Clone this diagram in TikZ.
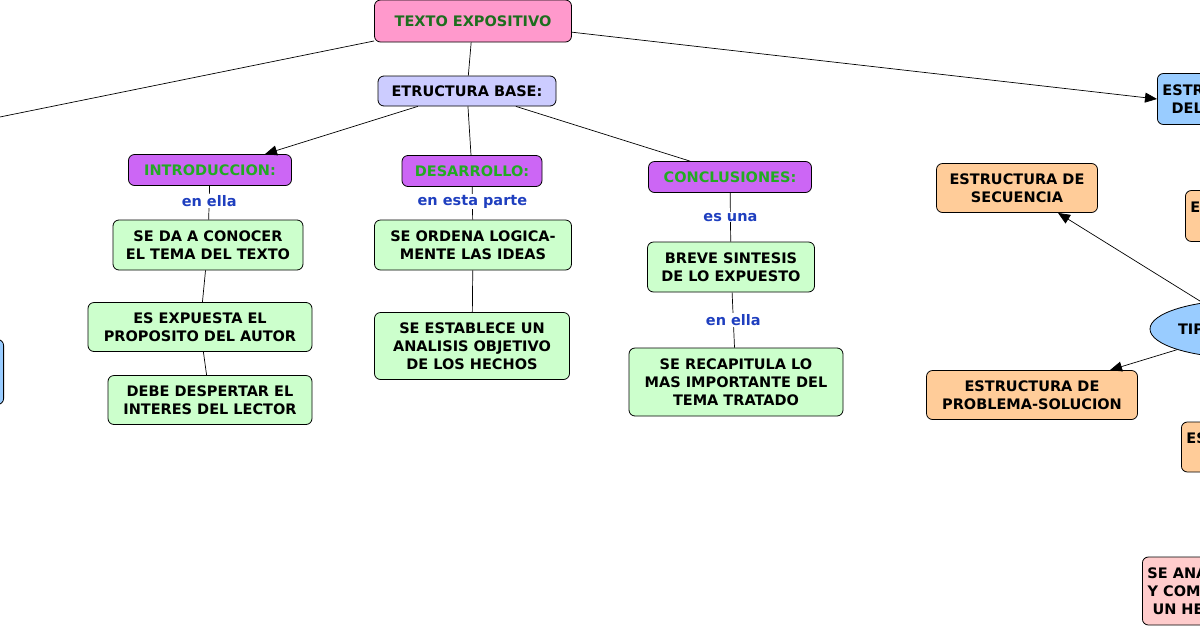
\documentclass[tikz,border=0pt]{standalone}
\usepackage{fontspec}
\setmainfont{DejaVu Sans}
\usetikzlibrary{arrows.meta,shapes.geometric}
\definecolor{lgreen}{HTML}{CCFFCC}
\definecolor{lorange}{HTML}{FFCC99}
\definecolor{lblue}{HTML}{99CCFF}
\definecolor{lpink}{HTML}{FFCCCC}
\definecolor{mpink}{HTML}{FF99CC}
\definecolor{lav}{HTML}{CCCCFF}
\definecolor{purp}{HTML}{CC66F5}
\definecolor{gtxt}{HTML}{22AA22}
\definecolor{dgtxt}{HTML}{1E6E1E}
\definecolor{btxt}{HTML}{1F3FBF}
\tikzset{x=1pt,y=-1pt,
 box/.style={draw=black,line width=0.8pt,rounded corners=6pt,align=center,font=\fontsize{14.5}{18}\selectfont\bfseries,inner xsep=5pt,inner ysep=4pt},
 gbox/.style={box,fill=lgreen},
 obox/.style={box,fill=lorange},
 pbox/.style={box,fill=purp,text=gtxt,minimum width=163pt,minimum height=31pt},
 lbl/.style={font=\fontsize{14.5}{16}\selectfont\bfseries,text=btxt,fill=white,inner sep=1pt},
 con/.style={line width=0.7pt},
 arr/.style={con,-{Triangle[length=12pt,width=10pt]}}}
\begin{document}
\begin{tikzpicture}
\useasboundingbox (0,0) rectangle (1200,630);
\clip (0,0) rectangle (1200,630);
\fill[white] (0,0) rectangle (1200,630);
\node[box,fill=mpink,text=dgtxt,minimum width=197pt,minimum height=42pt] (te) at (473,21) {TEXTO EXPOSITIVO};
\node[box,fill=lav,minimum width=178pt,minimum height=30pt] (eb) at (467,91) {ETRUCTURA BASE:};
\node[pbox] (in) at (210,170) {INTRODUCCION:};
\node[pbox,minimum width=140pt] (de) at (472,171) {DESARROLLO:};
\node[pbox] (co) at (730,177) {CONCLUSIONES:};
\node[gbox,minimum width=190pt,minimum height=50pt] (g1) at (208,245) {SE DA A CONOCER\\EL TEMA DEL TEXTO};
\node[gbox,minimum width=224pt,minimum height=49pt] (g2) at (200,327) {ES EXPUESTA EL\\PROPOSITO DEL AUTOR};
\node[gbox,minimum width=204pt,minimum height=49pt] (g3) at (210,400) {DEBE DESPERTAR EL\\INTERES DEL LECTOR};
\node[gbox,minimum width=197pt,minimum height=50pt] (g4) at (473,245) {SE ORDENA LOGICA-\\MENTE LAS IDEAS};
\node[gbox,minimum width=195pt,minimum height=67pt] (g5) at (472,346) {SE ESTABLECE UN\\ANALISIS OBJETIVO\\DE LOS HECHOS};
\node[gbox,minimum width=167pt,minimum height=50pt] (g6) at (731,267) {BREVE SINTESIS\\DE LO EXPUESTO};
\node[gbox,minimum width=214pt,minimum height=68pt] (g7) at (736,382) {SE RECAPITULA LO\\MAS IMPORTANTE DEL\\TEMA TRATADO};
\node[obox,minimum width=161pt,minimum height=49pt] (o1) at (1017,188) {ESTRUCTURA DE\\SECUENCIA};
\node[obox,minimum width=211pt,minimum height=49pt] (o2) at (1032,395) {ESTRUCTURA DE\\PROBLEMA-SOLUCION};
\node[obox,anchor=west,minimum height=51pt] (o3) at (1185,216) {ESTRUCTURA\\DE};
\node[obox,anchor=west,minimum height=50pt] (o4) at (1181,447) {ESTRUCTURA\\DE};
\node[box,fill=lblue,anchor=west,minimum height=51pt] (eb2) at (1157,99) {ESTRUCTURA\\DEL TEXTO};
\node[box,fill=lpink,anchor=west,minimum height=68pt] (pk) at (1142,591) {SE ANALIZA\\Y COMPARA\\UN HECHO};
\node[box,fill=lblue,anchor=east,minimum width=60pt,minimum height=65pt] (lb) at (4,372) {};
\node[ellipse,draw,line width=0.8pt,fill=lblue,minimum width=190pt,minimum height=58pt,inner sep=0pt,font=\fontsize{14.5}{16}\selectfont\bfseries] (ti) at (1245,329) {TIPOS DE TEXTO};
\coordinate (lft) at (-10,119);
\draw[con] (te) -- (lft);
\draw[con] (te) -- (eb);
\draw[arr] (te) -- (eb2.west);
\draw[arr] (eb) -- ([xshift=55pt]in.north);
\draw[con] (eb) -- (de);
\draw[con] (eb) -- ([xshift=-40pt]co.north);
\draw[con] (in) -- node[lbl,pos=0.45] {en ella} (g1);
\draw[con] (de) -- node[lbl,pos=0.45] {en esta parte} (g4);
\draw[con] (co) -- node[lbl,pos=0.5] {es una} (g6);
\draw[con] (g6) -- node[lbl,pos=0.5] {en ella} (g7);
\draw[con] (g1) -- (g2);
\draw[con] (g2) -- (g3);
\draw[con] (g4) -- (g5);
\draw[arr] (ti) -- ([xshift=41pt]o1.south);
\draw[arr] (ti) -- ([xshift=78pt]o2.north);
\end{tikzpicture}
\end{document}
